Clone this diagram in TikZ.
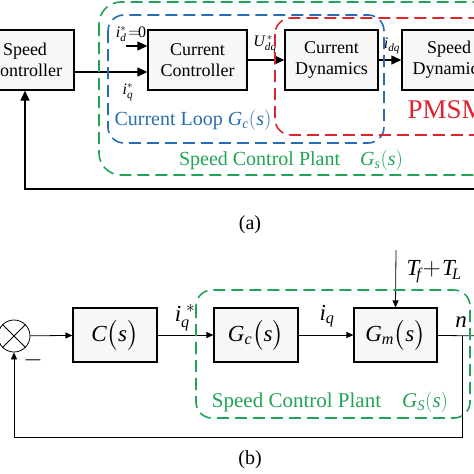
\documentclass[tikz,border=0pt]{standalone}
\usepackage{amsmath}
\usepackage{fontspec}
\setmainfont{Liberation Serif}
\usetikzlibrary{positioning, arrows.meta, calc}
\definecolor{plantgreen}{RGB}{34,163,86}
\definecolor{loopblue}{RGB}{38,110,178}
\definecolor{pmsmred}{RGB}{222,36,46}
\newcommand{\mv}[1]{\textit{#1}}

\begin{document}
\begin{tikzpicture}[
  x=1pt, y=-1pt,
  font=\fontsize{18}{21}\selectfont,
  blockbox/.style={draw, fill=gray!6, line width=1.3pt, minimum height=60pt, align=center, inner sep=2pt},
  smallbox/.style={draw, fill=gray!6, line width=1.2pt, minimum width=84pt, minimum height=54pt, font=\fontsize{23}{24}\selectfont},
  sig/.style={line width=1.2pt, -{Triangle[length=10pt, width=9pt]}},
  thinsig/.style={line width=0.8pt, -{Triangle[length=7pt, width=6pt]}},
  dashbox/.style={line width=1.6pt, dash pattern=on 12pt off 6pt, rounded corners=#1},
  sublabel/.style={font=\fontsize{16}{16}\selectfont, inner sep=1pt},
  mathlabel/.style={font=\fontsize{23}{23}\selectfont, inner sep=1pt}
]
\clip (0,0) rectangle (474,474);

% (a) cascade structure
\node[blockbox, minimum width=98pt] (spdctrl) at (25,60) {Speed\\Controller};
\node[blockbox, minimum width=99pt] (curctrl) at (197.5,60) {Current\\Controller};
\node[blockbox, minimum width=93pt] (curdyn) at (331.5,60) {Current\\Dynamics};
\node[blockbox, minimum width=94pt] (spddyn) at (449,60) {Speed\\Dynamics};

\coordinate (idin) at ([xshift=-21pt, yshift=14pt]curctrl.west);
\coordinate (nout) at (530,60);
\coordinate (fb) at (25,189);

\draw[sig] (idin) -- ([yshift=14pt]curctrl.west);
\draw[sig] ([yshift=-12pt]spdctrl.east) -- ([yshift=-12pt]curctrl.west);
\draw[sig] (curctrl) -- (curdyn);
\draw[sig] (curdyn) -- (spddyn);
\draw[line width=1.2pt] (spddyn) -- (nout);
\draw[sig] (nout) |- (fb) -- (spdctrl.south);

\node[sublabel] (idlabel) at (131,34) {$\mv{i}_{\mv{d}}^{*}\!=\!$0};
\node[sublabel] (iqlabel) at (128,92) {$\mv{i}_{\mv{q}}^{*}$};
\node[sublabel] (udqlabel) at (265,44) {$\mv{U}_{\mv{dq}}^{\,*}$};
\node[sublabel] (idqlabel) at (392,46) {$\mv{i}_{\mv{dq}}$};

\draw[dashbox=22pt, plantgreen] (99,2) rectangle (540,175);
\draw[dashbox=16pt, loopblue] (108,15) rectangle (384,143);
\draw[dashbox=16pt, pmsmred] (275,18) rectangle (540,135);

\node[text=loopblue, font=\fontsize{20}{20}\selectfont] (looplabel) at (193,120) {Current Loop $\mv{G}_{\mv{c}}(\mv{s})$};
\node[text=plantgreen, font=\fontsize{20}{20}\selectfont] (plantlabel) at (291,160) {Speed Control Plant\quad $\mv{G}_{\mv{s}}(\mv{s})$};
\node[text=pmsmred, font=\fontsize{27}{27}\selectfont, anchor=west] (pmsmlabel) at (404,110) {PMSM};
\node[font=\fontsize{20}{20}\selectfont] (labela) at (250,225) {(a)};

% (b) simplified loop
\node[draw, circle, minimum size=32pt, inner sep=0pt, line width=0.8pt, fill=white] (sum) at (14,336) {};
\draw[line width=0.8pt] (sum.north west) -- (sum.south east) (sum.north east) -- (sum.south west);
\node[mathlabel] (minus) at (33,360) {$-$};
\node[smallbox] (cs) at (115,335) {$\mv{C}\big(\mv{s}\big)$};
\node[smallbox] (gc) at (256,335) {$\mv{G}_{\mv{c}}\big(\mv{s}\big)$};
\node[smallbox, minimum width=83pt] (gm) at (395.5,335) {$\mv{G}_{\mv{m}}\big(\mv{s}\big)$};

\coordinate (torque) at (396,250);
\coordinate (branch) at (462,336);
\coordinate (speedout) at (490,336);
\coordinate (fbb) at (14,437);

\draw[thinsig] (sum) -- (cs);
\draw[thinsig] (cs) -- (gc);
\draw[thinsig] (gc) -- (gm);
\draw[thinsig] (torque) -- (gm.north);
\draw[line width=0.8pt] (gm) -- (speedout);
\draw[thinsig] (branch) |- (fbb) -- (sum.south);

\node[mathlabel] (iqref) at (185,318) {$\mv{i}_{\mv{q}}^{\;*}$};
\node[mathlabel] (iqact) at (327,316) {$\mv{i}_{\mv{q}}$};
\node[mathlabel] (load) at (434,272) {$\mv{T}_{\!\mv{f}}\!+\!\mv{T}_{\!\mv{L}}$};
\node[mathlabel] (speed) at (461,322) {$\mv{n}$};

\draw[dashbox=16pt, plantgreen] (196,290) rectangle (470,418);
\node[text=plantgreen, font=\fontsize{21}{21}\selectfont] (plantlabelb) at (330,402) {Speed Control Plant\quad $\mv{G}_{\mv{S}}(\mv{s})$};
\node[font=\fontsize{20}{20}\selectfont] (labelb) at (250,460) {(b)};
\end{tikzpicture}
\end{document}
